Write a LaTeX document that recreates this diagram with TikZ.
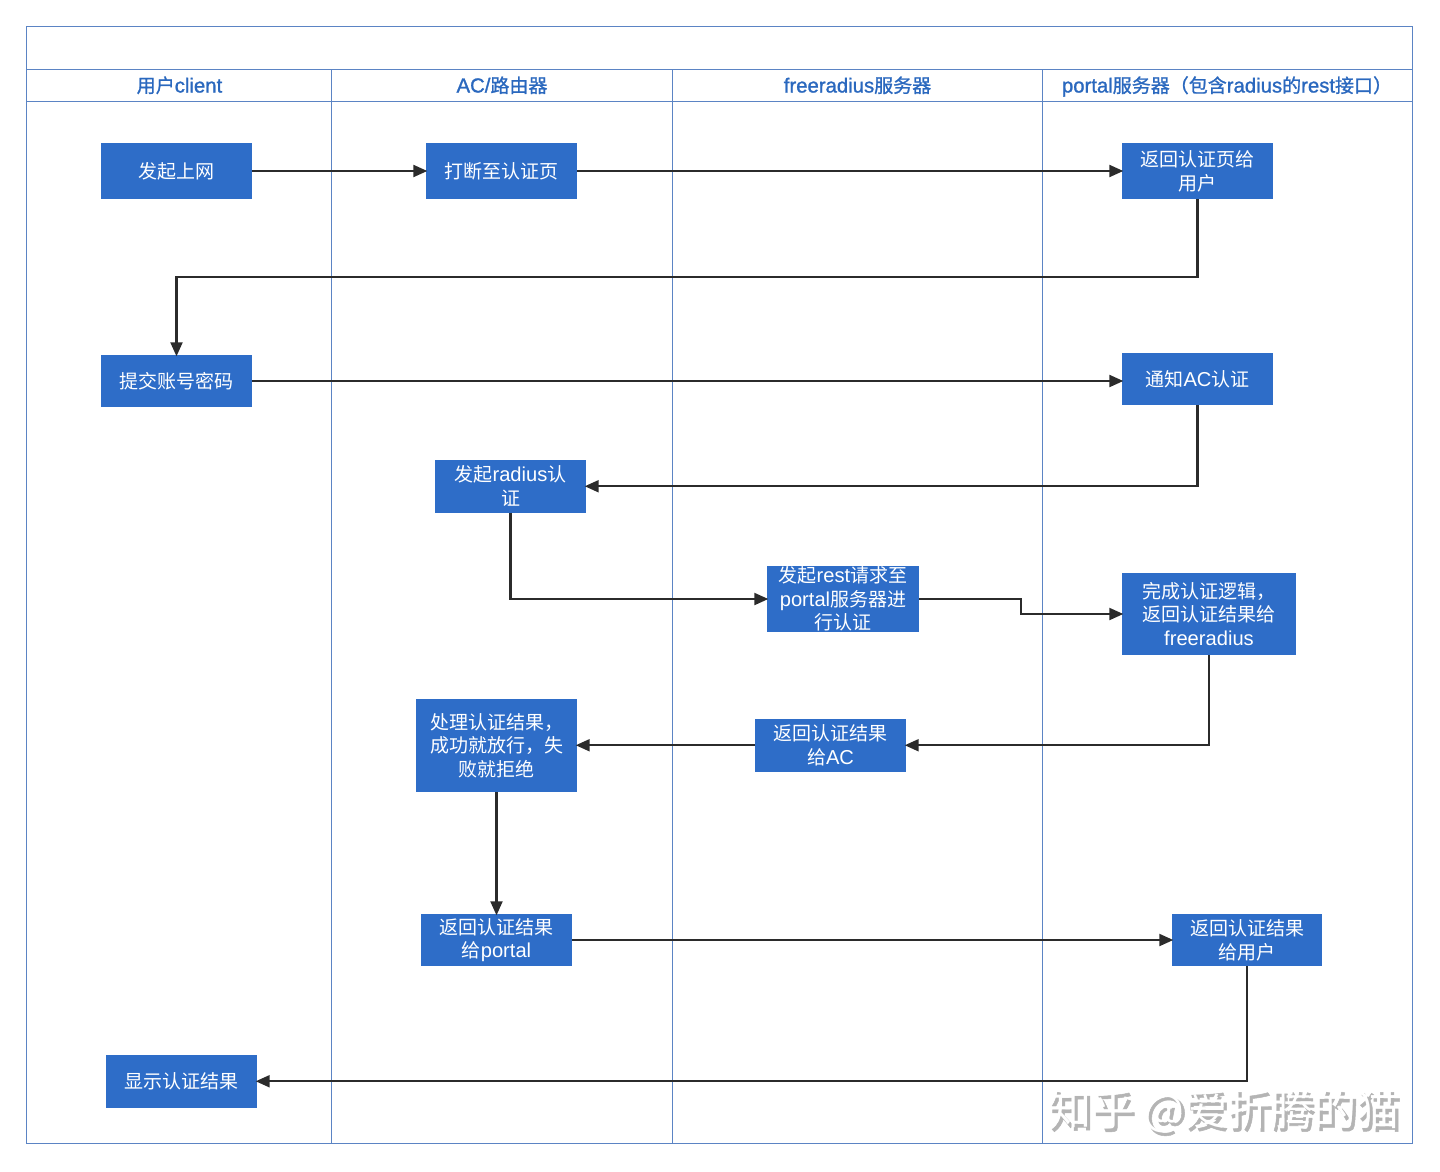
\documentclass[tikz,border=0pt]{standalone}
\usepackage{fontspec}
\setmainfont{Noto Sans CJK SC}
\newfontfamily\lat[Scale=1.06]{Liberation Sans}
\newfontfamily\titlecjk[FakeBold=1.2]{Noto Sans CJK SC}
\newfontfamily\titlelat[Scale=1.07,FakeBold=1.2]{Liberation Sans}
\newfontfamily\wmfont[FakeBold=1.2]{Noto Sans CJK SC}
\usetikzlibrary{arrows.meta}
\definecolor{boxblue}{HTML}{2E6DC8}
\definecolor{lanehead}{HTML}{2A68BE}
\definecolor{laneline}{HTML}{5B84C4}
\definecolor{flowline}{HTML}{2B2B2B}
\definecolor{wmgray}{HTML}{B4B4B4}
\tikzset{
  x=1pt,y=-1pt,
  procbox/.style={fill=boxblue,draw=none,inner sep=0pt,text=white,align=center,
    font=\fontsize{19}{23.7}\selectfont},
  lanetitle/.style={text=lanehead,inner sep=0pt,anchor=base,font=\fontsize{19}{23}\selectfont\titlecjk},
  laneedge/.style={draw=laneline,line width=1pt},
  flow/.style={draw=flowline,line width=2.1pt,-{Triangle[length=14pt,width=12pt]},shorten >=-1.5pt},
  wmshadow/.style={text=wmgray,inner sep=0pt,font=\fontsize{43}{43}\selectfont\wmfont},
  wmface/.style={text=white,inner sep=0pt,font=\fontsize{43}{43}\selectfont},
}
\newcommand{\procnode}[6]{% name, left, top, right, bottom, text
  \node[procbox,minimum width={(#4-#2)*1pt},minimum height={(#5-#3)*1pt}] (#1) at ({(#2+#4)/2},{(#3+#5)/2}) {#6};}
\begin{document}
\begin{tikzpicture}
\useasboundingbox (0,0) rectangle (1440,1171);
% pool
\draw[laneedge] (26.5,26.5) rectangle (1412.5,1143.5);
\draw[laneedge] (26.5,69.5) -- (1412.5,69.5);
\draw[laneedge] (26.5,101.5) -- (1412.5,101.5);
\draw[laneedge] (331.5,69.5) -- (331.5,1143.5);
\draw[laneedge] (672.5,69.5) -- (672.5,1143.5);
\draw[laneedge] (1042.5,69.5) -- (1042.5,1143.5);
% titles
\node[lanetitle] (t1) at (179.5,92.5) {用户{\titlelat client}};
\node[lanetitle] (t2) at (502,92.5) {{\titlelat AC/}路由器};
\node[lanetitle] (t3) at (857.5,92.5) {{\titlelat freeradius}服务器};
\node[lanetitle] (t4) at (1227,92.5) {{\titlelat portal}服务器（包含{\titlelat radius}的{\titlelat rest}接口）};
% watermark
\node[wmshadow,anchor=west] (wm0) at (1050.5,1114) {知乎 @爱折腾的猫};
\node[wmface,anchor=west] (wm1) at (1048,1111.5) {知乎 @爱折腾的猫};
% boxes
\procnode{a}{101}{143}{252}{199}{发起上网}
\procnode{b}{426}{143}{577}{199}{打断至认证页}
\procnode{c}{1122}{143}{1273}{199}{返回认证页给\\用户}
\procnode{d}{101}{355}{252}{407}{提交账号密码}
\procnode{e}{1122}{353}{1273}{405}{通知{\lat AC}认证}
\procnode{f}{435}{460}{586}{512.5}{发起{\lat radius}认\\证}
\procnode{g}{767}{566}{919}{632}{发起{\lat rest}请求至\\{\lat portal}服务器进\\行认证}
\procnode{h}{1122}{573}{1296}{655}{完成认证逻辑，\\返回认证结果给\\{\lat freeradius}}
\procnode{i}{755}{719}{906}{771.5}{返回认证结果\\给{\lat AC}}
\procnode{j}{416}{699}{577}{792}{处理认证结果，\\成功就放行，失\\败就拒绝}
\procnode{k}{421}{914}{572}{966}{返回认证结果\\给{\lat portal}}
\procnode{l}{1172}{914}{1322}{966}{返回认证结果\\给用户}
\procnode{m}{106}{1055}{257}{1107.5}{显示认证结果}
% connectors
\draw[flow] (a) -- (b);
\draw[flow] (b) -- (c);
\draw[flow] (c.south) -- (c.south |- 0,277) -- (d.north |- 0,277) -- (d.north);
\draw[flow] (d.east) -- (e.west |- d.east);
\draw[flow] (e.south) |- (f.east);
\draw[flow] (f.south) |- (g.west);
\draw[flow] (g.east) -- (1021,599) -- (1021,614) -- (h.west);
\draw[flow] (h.south) |- (i.east);
\draw[flow] (i.west) -- (i.west -| j.east);
\draw[flow] (j) -- (k);
\draw[flow] (k) -- (l);
\draw[flow] (l.south) |- (m.east);
\end{tikzpicture}
\end{document}
